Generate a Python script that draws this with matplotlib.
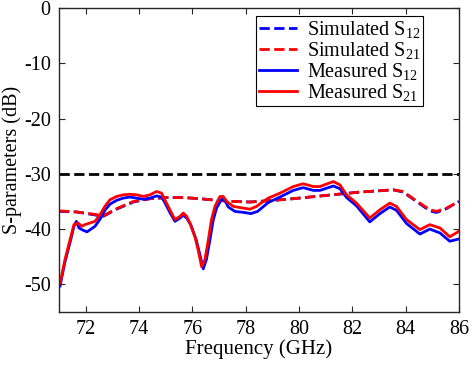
import matplotlib
matplotlib.use("Agg")
import matplotlib.pyplot as plt

plt.rcParams['font.family'] = ['Liberation Serif', 'DejaVu Serif']
plt.rcParams['mathtext.fontset'] = 'custom'
plt.rcParams['mathtext.rm'] = 'Liberation Serif'
plt.rcParams['mathtext.it'] = 'Liberation Serif'
plt.rcParams['axes.unicode_minus'] = False

# measured S21 (red)
f_meas21 = [71.04, 71.22, 71.41, 71.56, 71.72, 71.85, 71.97, 72.16, 72.35, 72.54,
            72.72, 72.91, 73.16, 73.41, 73.66, 73.91, 74.16, 74.41, 74.66, 74.85,
            74.97, 75.16, 75.35, 75.54, 75.66, 75.79, 75.91, 76.10, 76.22, 76.35,
            76.47, 76.60, 76.72, 76.85, 77.04, 77.16, 77.29, 77.54, 77.91, 78.16,
            78.41, 78.66, 78.85, 79.29, 79.79, 80.16, 80.54, 80.79, 81.29, 81.54,
            81.79, 82.16, 82.66, 83.04, 83.41, 83.66, 84.04, 84.54, 84.91, 85.29,
            85.66, 86.00]
s21_meas = [-49.8, -45.6, -42.0, -39.2, -38.9, -39.5, -39.2, -38.9, -38.6, -37.4,
            -35.9, -34.7, -34.1, -33.8, -33.7, -33.8, -34.1, -33.8, -33.2, -33.5,
            -34.7, -36.5, -38.3, -37.7, -37.1, -37.7, -38.9, -41.4, -43.8, -46.8,
            -45.6, -42.0, -38.3, -35.9, -34.1, -34.1, -35.0, -35.9, -36.2, -36.4,
            -35.9, -35.0, -34.4, -33.5, -32.3, -31.8, -32.3, -32.3, -31.4, -32.0,
            -33.8, -35.3, -38.0, -36.5, -35.3, -35.9, -38.3, -40.1, -39.2, -39.8,
            -41.4, -40.4]

# measured S12 (blue)
f_meas12 = [71.04, 71.22, 71.41, 71.56, 71.65, 71.75, 71.90, 72.05, 72.20, 72.35,
            72.54, 72.72, 72.91, 73.16, 73.41, 73.66, 73.91, 74.16, 74.41, 74.66,
            74.85, 74.97, 75.16, 75.35, 75.54, 75.66, 75.79, 75.95, 76.15, 76.28,
            76.41, 76.53, 76.66, 76.78, 76.91, 77.10, 77.22, 77.35, 77.60, 77.95,
            78.20, 78.45, 78.70, 78.85, 79.29, 79.79, 80.16, 80.54, 80.79, 81.29,
            81.54, 81.79, 82.16, 82.66, 83.04, 83.41, 83.66, 84.04, 84.54, 84.91,
            85.29, 85.66, 86.00]
s12_meas = [-50.3, -46.0, -42.5, -39.5, -38.6, -39.8, -40.2, -40.5, -40.0, -39.5,
            -38.2, -36.6, -35.5, -34.8, -34.4, -34.2, -34.4, -34.6, -34.4, -34.0,
            -34.2, -35.2, -37.0, -38.6, -38.0, -37.5, -38.0, -39.3, -42.0, -44.5,
            -47.2, -45.5, -42.0, -38.5, -36.2, -34.6, -34.8, -36.0, -36.8, -37.0,
            -37.2, -36.8, -35.8, -35.2, -34.2, -33.0, -32.5, -33.0, -33.0, -32.2,
            -32.7, -34.3, -35.8, -38.7, -37.2, -36.0, -36.6, -39.0, -40.9, -40.0,
            -40.7, -42.2, -41.8]

# simulated
f_sim = [71.0, 71.66, 72.29, 72.66, 73.16, 73.79, 74.41, 75.04, 75.66, 76.29,
         76.91, 77.54, 78.16, 78.79, 79.79, 81.04, 82.29, 83.54, 83.91, 84.41,
         84.91, 85.16, 85.54, 86.0]
s12_sim = [-36.8, -36.9, -37.4, -37.7, -36.4, -35.1, -34.5, -34.3, -34.3, -34.5,
           -34.8, -35.0, -35.1, -34.9, -34.5, -33.9, -33.3, -32.9, -33.3, -35.0,
           -36.7, -37.0, -36.3, -35.0]
s21_sim = [-36.7, -36.9, -37.3, -37.6, -36.3, -35.0, -34.5, -34.3, -34.3, -34.5,
           -34.8, -35.0, -35.1, -34.9, -34.5, -33.9, -33.3, -32.9, -33.2, -34.9,
           -36.5, -36.8, -36.2, -35.0]

threshold = -30

fig = plt.figure(figsize=(4.74, 3.67), dpi=100)
ax = fig.add_axes([0.1245, 0.150, 0.8435, 0.828])

ax.plot(f_sim, s12_sim, color='blue', ls='--', lw=2, label='Simulated S$_{12}$')
ax.plot(f_sim, s21_sim, color='red', ls='--', lw=2, label='Simulated S$_{21}$')
ax.plot(f_meas12, s12_meas, color='blue', lw=2, label='Measured S$_{12}$')
ax.plot(f_meas21, s21_meas, color='red', lw=2, label='Measured S$_{21}$')
ax.axhline(threshold, color='black', ls='--', lw=2)

ax.set_xlim(71, 86)
ax.set_ylim(-55, 0)
ax.set_xticks(range(72, 87, 2))
ax.set_yticks([0, -10, -20, -30, -40, -50])
ax.tick_params(direction='in', top=True, right=True, labelsize=14.5, length=4,
               color='#262626', pad=6)
for sp in ax.spines.values():
    sp.set_color('#262626')
    sp.set_linewidth(1)

ax.set_xlabel('Frequency (GHz)', fontsize=15, labelpad=0)
ax.set_ylabel('S-parameters (dB)', fontsize=14.5, labelpad=1)

leg = ax.legend(loc='upper right', bbox_to_anchor=(0.91, 0.974), borderaxespad=0,
                fontsize=14.5, labelspacing=0.0, handlelength=1.9, handletextpad=0.45,
                borderpad=0.15, fancybox=False, framealpha=1, edgecolor='black')
leg.get_frame().set_linewidth(0.8)

fig.savefig('out.png', dpi=100)
